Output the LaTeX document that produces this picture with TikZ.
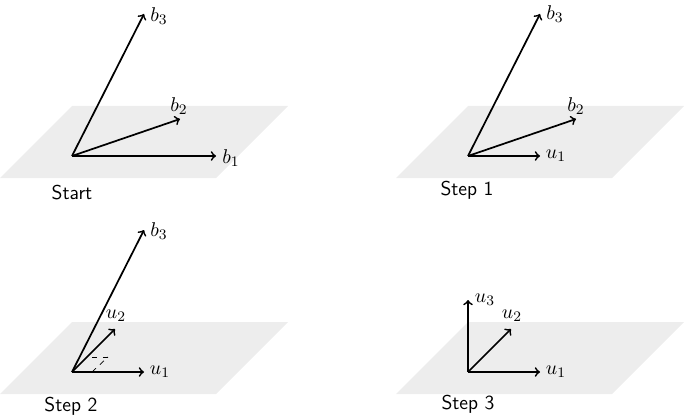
\documentclass[tikz,border=0pt]{standalone}
\usepackage{amsfonts}
\usepackage{amsmath}
\usepackage{amssymb}
\usepackage{tikz}
\definecolor{planegray}{gray}{0.93}
\tikzset{
    plane/.style={fill=planegray, draw=none},
    vec/.style={->, line width=0.95pt},
    veclabel/.style={font=\fontsize{11}{13}\selectfont},
    steplabel/.style={font=\fontsize{11}{13}\selectfont\sffamily},
}

\begin{document}
\begin{tikzpicture}[x=0.55pt, y=-0.55pt]
            \useasboundingbox (0,0) rectangle (685,418);

            %Planes
            \fill[plane] (72,106) -- (288,106) -- (216,178) -- (0,178) -- cycle;
            \fill[plane] (468,106) -- (684,106) -- (612,178) -- (396,178) -- cycle;
            \fill[plane] (72,322) -- (288,322) -- (216,394) -- (0,394) -- cycle;
            \fill[plane] (468,322) -- (684,322) -- (612,394) -- (396,394) -- cycle;

            %Start
            \coordinate (o0) at (72,156);
            \coordinate (a1) at (216,156);
            \coordinate (a2) at (180,119);
            \coordinate (a3) at (144,14);
            \node[veclabel] at (231,158) (la1) {$b_1$};
            \node[veclabel] at (179,106) (la2) {$b_2$};
            \node[veclabel] at (159,16) (la3) {$b_3$};
            \node[steplabel] at (72,193) (start) {Start};

            %Step 1
            \coordinate (o1) at (468,156);
            \coordinate (c1) at (540,156);
            \coordinate (c2) at (576,119);
            \coordinate (c3) at (540,14);
            \node[veclabel] at (556,156) (lc1) {$u_1$};
            \node[veclabel] at (576,106) (lc2) {$b_2$};
            \node[veclabel] at (555,14) (lc3) {$b_3$};
            \node[steplabel] at (467,190) (step1) {Step 1};

            %Step 2
            \coordinate (o2) at (72,372);
            \coordinate (d1) at (144,372);
            \coordinate (d2) at (115,329);
            \coordinate (d3) at (144,230);
            \coordinate (e1) at (92,372);
            \coordinate (e2) at (108,357);
            \coordinate (e3) at (92,357);
            \node[veclabel] at (160,372) (ld1) {$u_1$};
            \node[veclabel] at (116,316) (ld2) {$u_2$};
            \node[veclabel] at (159,231) (ld3) {$b_3$};
            \node[steplabel] at (71,406) (step2) {Step 2};

            %Step 3
            \coordinate (o3) at (468,372);
            \coordinate (f1) at (540,372);
            \coordinate (f2) at (511,329);
            \coordinate (f3) at (468,300);
            \node[veclabel] at (556,372) (lf1) {$u_1$};
            \node[veclabel] at (512,316) (lf2) {$u_2$};
            \node[veclabel] at (485,300) (lf3) {$u_3$};
            \node[steplabel] at (468,404) (step3) {Step 3};

            %Lines
            \draw[vec] (o0) -- (a1);
            \draw[vec] (o0) -- (a2);
            \draw[vec] (o0) -- (a3);
            \draw[vec] (o1) -- (c1);
            \draw[vec] (o1) -- (c2);
            \draw[vec] (o1) -- (c3);
            \draw[vec] (o2) -- (d1);
            \draw[vec] (o2) -- (d2);
            \draw[vec] (o2) -- (d3);
            \draw[dashed, thin] (e3) -- (e2);
            \draw[dashed, thin] (e1) -- (e2);
            \draw[vec] (o3) -- (f1);
            \draw[vec] (o3) -- (f2);
            \draw[vec] (o3) -- (f3);
        \end{tikzpicture}
\end{document}
